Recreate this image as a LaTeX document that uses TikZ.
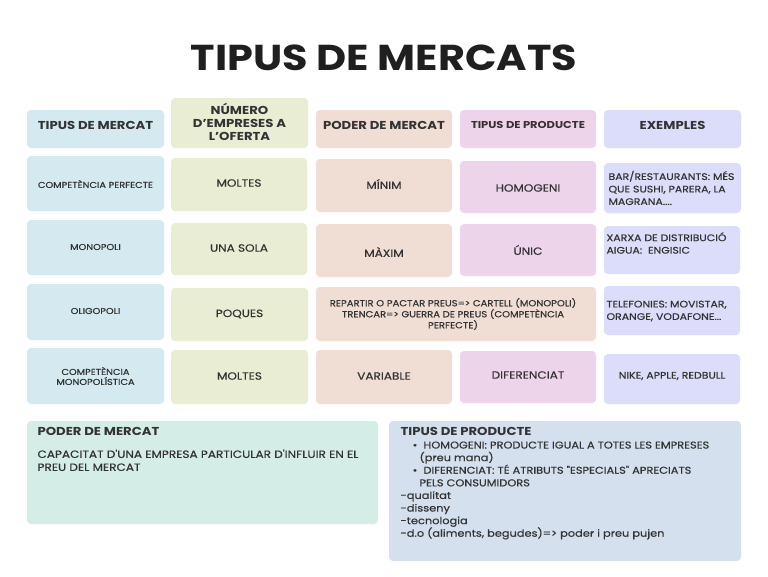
\documentclass[tikz,border=0pt]{standalone}
\usepackage{fontspec}
\setmainfont[FakeStretch=1.15]{Poppins}
\newfontfamily\bodyf[FakeStretch=1.15,FakeBold=0.5]{Poppins}
\definecolor{cA}{HTML}{D4EAF0}
\definecolor{cB}{HTML}{E8EDD3}
\definecolor{cC}{HTML}{F0DDD4}
\definecolor{cD}{HTML}{EED4EA}
\definecolor{cE}{HTML}{DCDDFB}
\definecolor{cF}{HTML}{D4EDE6}
\definecolor{cG}{HTML}{D4E0EE}
\definecolor{tx}{HTML}{333333}
\tikzset{
  cell/.style={fill=#1,rounded corners=4pt,draw=none},
  hd/.style={font=\bfseries\fontsize{11.5}{13}\selectfont,text=tx,align=center},
  sm/.style={font=\bodyf\fontsize{8.5}{10}\selectfont,text=tx,align=center},
  md/.style={font=\bodyf\fontsize{10.5}{12}\selectfont,text=tx,align=center},
  ex/.style={font=\bodyf\fontsize{9.5}{12.5}\selectfont,text=tx,align=left},
}
\begin{document}
\begin{tikzpicture}[x=1pt,y=-1pt]
\useasboundingbox[fill=white] (0,0) rectangle (768,576);
\node[font=\bfseries\fontsize{36}{40}\selectfont,text=black!88] (title) at (384,58) {TIPUS DE MERCATS};
% header
\fill[cell=cA] (27,110) rectangle (164,148); \node[hd] (h1) at (95.5,125) {TIPUS DE MERCAT};
\fill[cell=cB] (171,98) rectangle (308,148); \node[hd] (h2) at (239.5,122) {NÚMERO\\D'EMPRESES A\\L'OFERTA};
\fill[cell=cC] (316,110) rectangle (452,148); \node[hd] (h3) at (384,125) {PODER DE MERCAT};
\fill[cell=cD] (460,110) rectangle (596,148); \node[hd,font=\bfseries\fontsize{10}{12}\selectfont] (h4) at (528,125) {TIPUS DE PRODUCTE};
\fill[cell=cE] (604,110) rectangle (741,148); \node[hd] (h5) at (672.5,125) {EXEMPLES};
% row1
\fill[cell=cA] (27,156) rectangle (164,211); \node[sm] (a1) at (95.5,184) {COMPETÈNCIA PERFECTE};
\fill[cell=cB] (171,158) rectangle (307,211); \node[md] (b1) at (239,183) {MOLTES};
\fill[cell=cC] (316,159) rectangle (452,212); \node[md] (c1) at (384,184) {MÍNIM};
\fill[cell=cD] (460,161) rectangle (596,213); \node[md] (d1) at (528,188) {HOMOGENI};
\fill[cell=cE] (604,163) rectangle (741,213); \node[ex,anchor=west] (e1) at (605,188) {BAR/RESTAURANTS: MÉS\\QUE SUSHI, PARERA, LA\\MAGRANA....};
% row2
\fill[cell=cA] (27,220) rectangle (164,275); \node[sm] (a2) at (95.5,247) {MONOPOLI};
\fill[cell=cB] (171,223) rectangle (307,275); \node[md] (b2) at (239,248) {UNA SOLA};
\fill[cell=cC] (316,224) rectangle (452,277); \node[md] (c2) at (384,252) {MÀXIM};
\fill[cell=cD] (460,224) rectangle (596,276); \node[md] (d2) at (528,250) {ÚNIC};
\fill[cell=cE] (604,226) rectangle (740,274); \node[ex,anchor=west] (e2) at (603,243) {XARXA DE DISTRIBUCIÓ\\AIGUA:\ \ ENGISIC};
% row3
\fill[cell=cA] (27,284) rectangle (164,340); \node[sm] (a3) at (95.5,311) {OLIGOPOLI};
\fill[cell=cB] (171,288) rectangle (308,341); \node[md] (b3) at (239.5,314) {POQUES};
\fill[cell=cC] (316,287) rectangle (596,341); \node[sm,font=\bodyf\fontsize{8.7}{11}\selectfont] (c3) at (453,314) {REPARTIR O PACTAR PREUS=> CARTELL (MONOPOLI)\\TRENCAR=> GUERRA DE PREUS (COMPETÈNCIA\\PERFECTE)};
\fill[cell=cE] (604,286) rectangle (740,335); \node[ex,anchor=west] (e3) at (603,311) {TELEFONIES: MOVISTAR,\\ORANGE, VODAFONE...};
% row4
\fill[cell=cA] (27,348) rectangle (164,404); \node[sm] (a4) at (95.5,376) {COMPETÈNCIA\\MONOPOLÍSTICA};
\fill[cell=cB] (171,350) rectangle (308,404); \node[md] (b4) at (239.5,376) {MOLTES};
\fill[cell=cC] (316,350) rectangle (452,404); \node[md] (c4) at (384,376) {VARIABLE};
\fill[cell=cD] (460,351) rectangle (596,403); \node[md] (d4) at (528,375) {DIFERENCIAT};
\fill[cell=cE] (604,354) rectangle (740,404); \node[ex] (e4) at (672,376) {NIKE, APPLE, REDBULL};
% bottom
\fill[cell=cF] (27,421) rectangle (378,524);
\node[hd,anchor=north west,align=left] (p1) at (34,424) {PODER DE MERCAT};
\node[ex,anchor=north west,font=\bodyf\fontsize{10.5}{13}\selectfont] (p2) at (34,446) {CAPACITAT D'UNA EMPRESA PARTICULAR D'INFLUIR EN EL\\PREU DEL MERCAT};
\fill[cell=cG] (389,421) rectangle (741,561);
\node[hd,anchor=north west,align=left] (q1) at (397,424) {TIPUS DE PRODUCTE};
\node[ex,anchor=north west,font=\bodyf\fontsize{9.9}{12.6}\selectfont] (q2) at (397,438) {%
\ \ \ \ •\ \ HOMOGENI: PRODUCTE IGUAL A TOTES LES EMPRESES\\
\hspace*{19pt}(preu mana)\\
\ \ \ \ •\ \ DIFERENCIAT: TÉ ATRIBUTS "ESPECIALS" APRECIATS\\
\hspace*{19pt}PELS CONSUMIDORS\\
-qualitat\\-disseny\\-tecnologia\\-d.o (aliments, begudes)=> poder i preu pujen};
\end{tikzpicture}
\end{document}
